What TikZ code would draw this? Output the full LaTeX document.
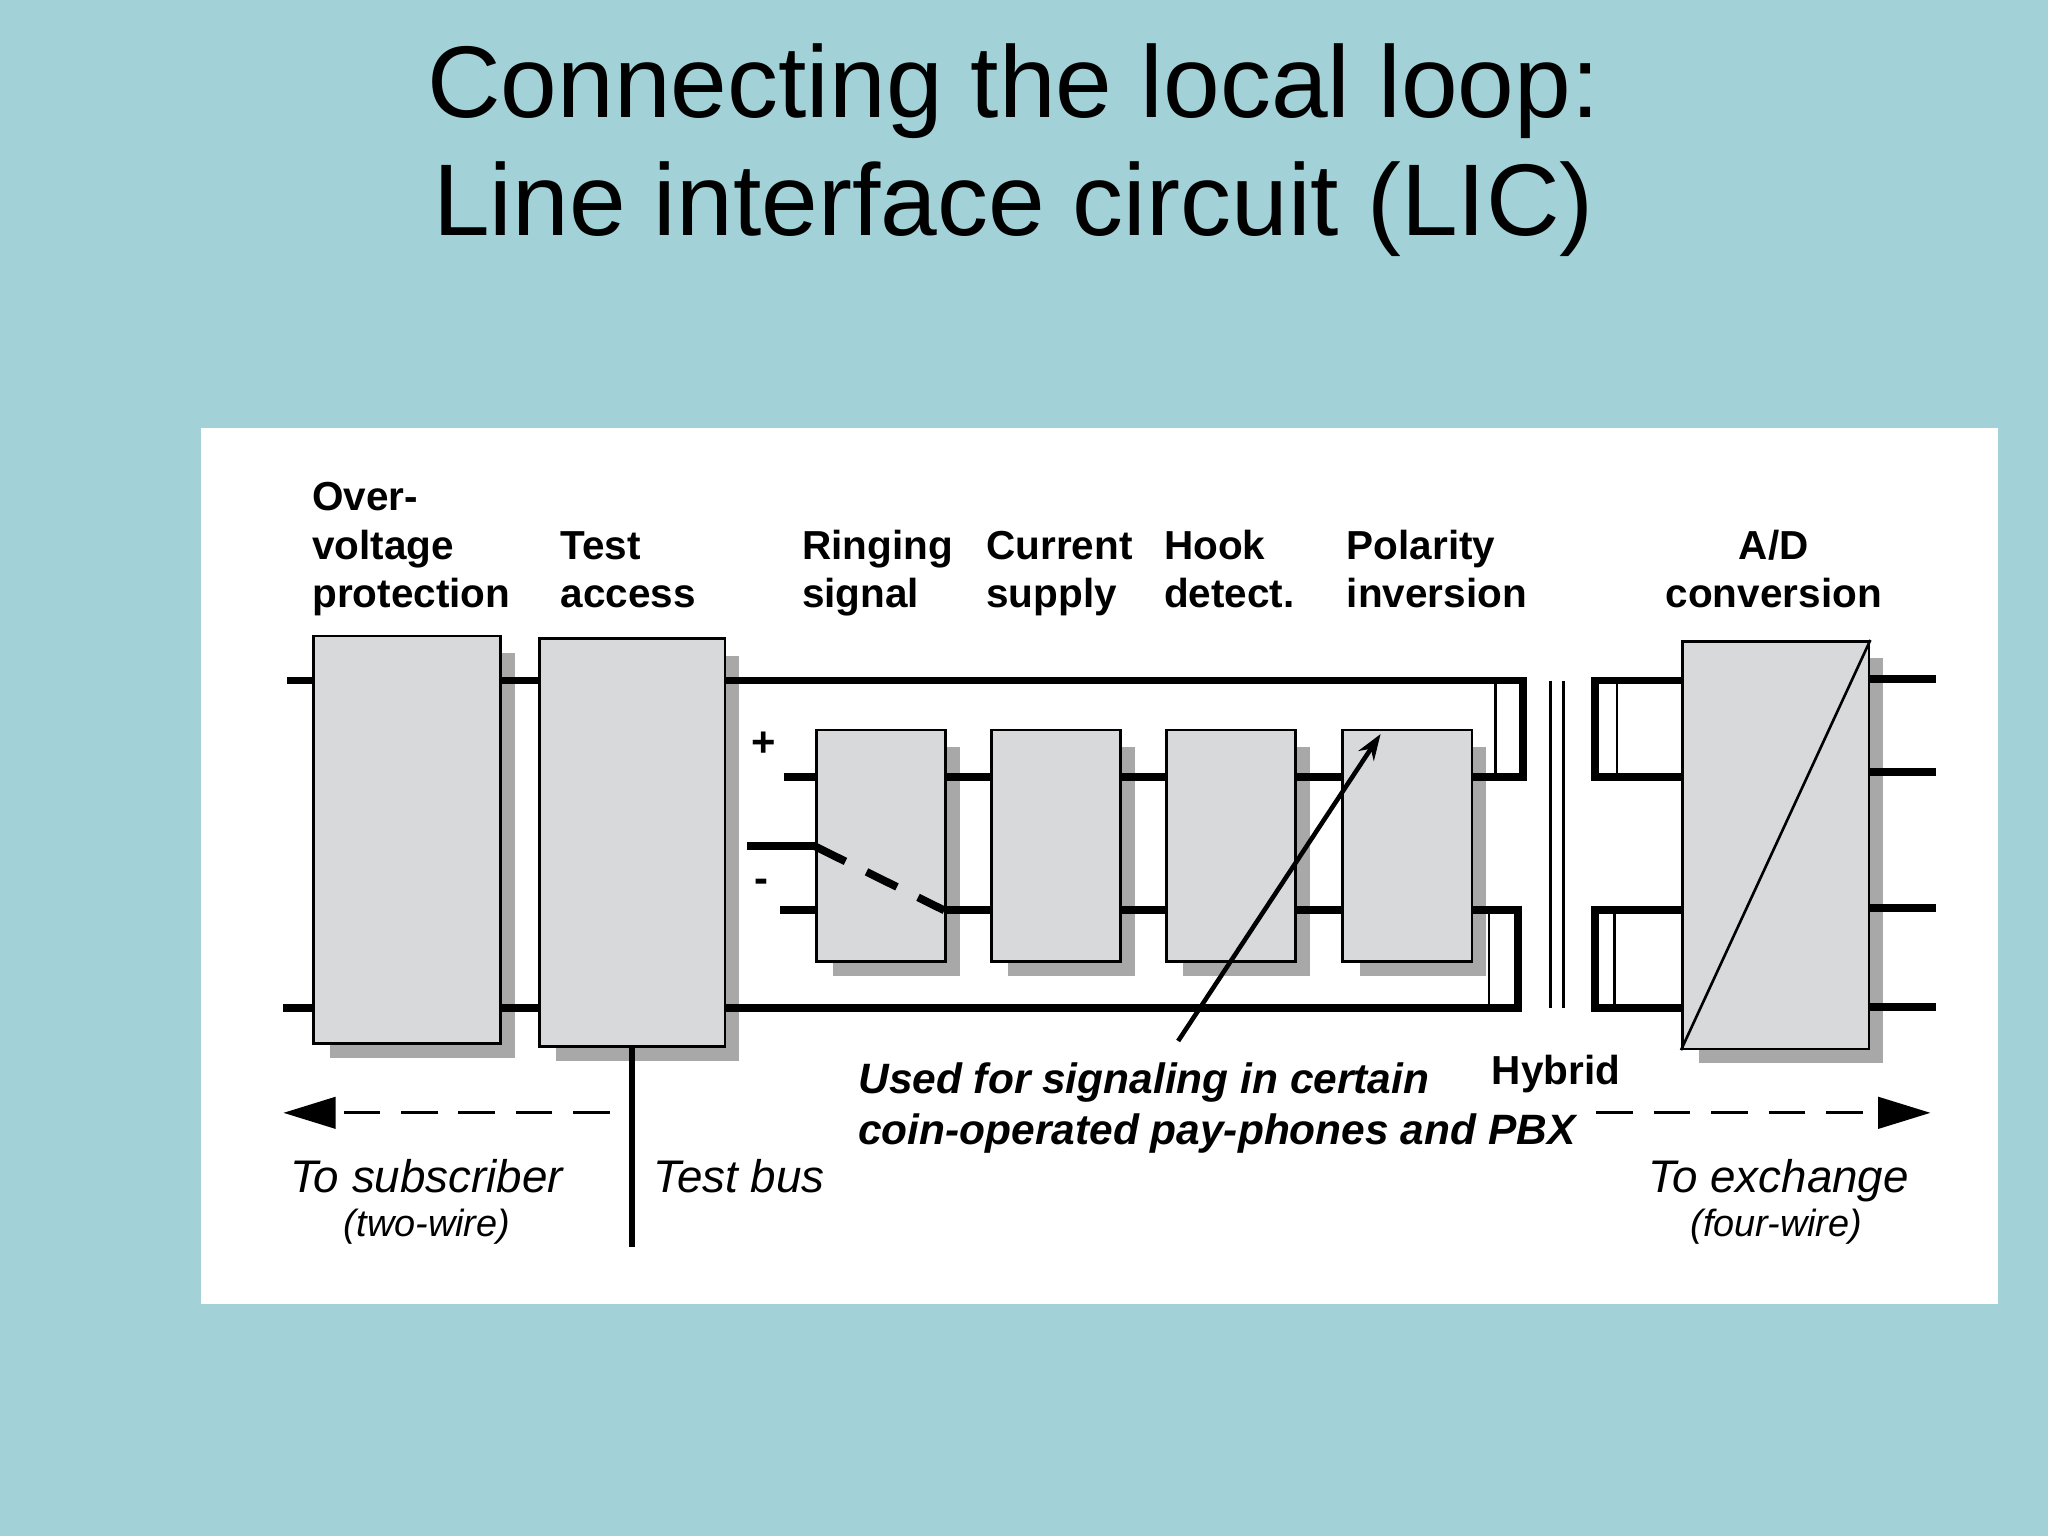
\documentclass[tikz,border=0pt]{standalone}
\usepackage{fontspec}
\setmainfont{Liberation Sans}
\usetikzlibrary{arrows.meta}
\definecolor{bgc}{HTML}{A2D1D8}
\definecolor{boxc}{HTML}{D8D9DB}
\definecolor{shc}{HTML}{A8A8A8}
\begin{document}
\begin{tikzpicture}[x=1pt,y=-1pt,
  blk/.style={draw=black,line width=2pt,fill=boxc},
  shd/.style={fill=shc},
  wire/.style={line width=6pt},
  thin/.style={line width=2pt},
  lab/.style={font=\fontsize{31}{37}\selectfont\bfseries,anchor=base west,align=left,inner sep=0pt},
  ital/.style={font=\fontsize{35}{37}\selectfont\itshape,inner sep=0pt,anchor=base west},
  sub/.style={font=\fontsize{29}{30}\selectfont\itshape,inner sep=0pt,anchor=base},
  note/.style={font=\fontsize{32.5}{39}\selectfont\bfseries\itshape,anchor=base west,align=left,inner sep=0pt}]
\useasboundingbox (0,0) rectangle (1568,1176);
\fill[bgc] (0,0) rectangle (1568,1176);
\fill[white] (154,328) rectangle (1530,998);
% title
\node[font=\fontsize{78}{90}\selectfont,anchor=base,align=center,inner sep=0pt] (title) at (776,180) {Connecting the local loop:\\ Line interface circuit (LIC)};
% shadows
\foreach \a/\b/\c/\d in {239/486/382/798, 412/488/554/800, 624/558/723/735, 758/558/857/735, 892/558/991/735, 1027/558/1126/735, 1287/490/1430/802}
  \fill[shd] (\a+14,\b+14) rectangle (\c+12,\d+12);
% wires outer
\draw[wire] (220,521) -- (239,521) (382,521) -- (412,521);
\draw[wire] (217,772) -- (239,772) (382,772) -- (412,772);
\draw[wire] (554,521) -- (1166,521) -- (1166,595) -- (1126,595);
\draw[thin] (1145,521) -- (1145,595);
\draw[wire] (554,772) -- (1162,772) -- (1162,697) -- (1126,697);
\draw[thin] (1140,697) -- (1140,772);
% inner wires
\draw[wire] (600,595) -- (624,595) (723,595) -- (758,595) (857,595) -- (892,595) (991,595) -- (1027,595);
\draw[wire] (597,697) -- (624,697) (723,697) -- (758,697) (857,697) -- (892,697) (991,697) -- (1027,697);
\draw[wire] (572,648) -- (624,648);
% blocks
\node[blk,minimum width=143pt,minimum height=312pt,anchor=north west,inner sep=0pt] (ovp) at (239,486) {};
\node[blk,minimum width=142pt,minimum height=312pt,anchor=north west,inner sep=0pt] (ta) at (412,488) {};
\node[blk,minimum width=99pt,minimum height=177pt,anchor=north west,inner sep=0pt] (ring) at (624,558) {};
\node[blk,minimum width=99pt,minimum height=177pt,anchor=north west,inner sep=0pt] (cur) at (758,558) {};
\node[blk,minimum width=99pt,minimum height=177pt,anchor=north west,inner sep=0pt] (hook) at (892,558) {};
\node[blk,minimum width=99pt,minimum height=177pt,anchor=north west,inner sep=0pt] (pol) at (1027,558) {};
\node[blk,minimum width=143pt,minimum height=312pt,anchor=north west,inner sep=0pt] (ad) at (1287,490) {};
\draw[thin] (ad.south west) -- (ad.north east);
% switch
\draw[line width=6pt,dash pattern=on 26pt off 18pt] (624,648) -- (723,697);
\node[font=\fontsize{32}{32}\selectfont\bfseries] (plus) at (585,570) {+};
\node[font=\fontsize{32}{32}\selectfont\bfseries] (minus) at (583,678) {-};
% hybrid
\draw[thin] (1187,521) -- (1187,772) (1197,521) -- (1197,772);
\draw[wire] (1287,521) -- (1221,521) -- (1221,595) -- (1287,595);
\draw[thin] (1238,521) -- (1238,595);
\draw[wire] (1287,697) -- (1221,697) -- (1221,772) -- (1287,772);
\draw[thin] (1236,697) -- (1236,772);
% outputs
\foreach \y in {520,591,695,771} \draw[wire] (1430,\y) -- (1482,\y);
% test bus
\draw[line width=5pt] (484,800) -- (484,955);
% annotation arrow
\coordinate (nt) at (902,797);
\draw[line width=3.5pt,-{Stealth[length=20pt,width=14pt]}] (nt) -- (1057,562);
% dashed arrows
\draw[line width=2.5pt,dash pattern=on 28pt off 16pt,-{Triangle[length=40pt,width=24pt]}] (467,852) -- (217,852);
\draw[line width=2.5pt,dash pattern=on 28pt off 16pt,-{Triangle[length=40pt,width=24pt]}] (1222,852) -- (1478,852);
% labels
\node[lab] (l1) at (239,465) {Over-\\voltage\\protection};
\node[lab] (l2) at (429,465) {Test\\access};
\node[lab] (l3) at (614,465) {Ringing\\signal};
\node[lab] (l4) at (755,465) {Current\\supply};
\node[lab] (l5) at (891,465) {Hook\\detect.};
\node[lab] (l6) at (1031,465) {Polarity\\inversion};
\node[lab,anchor=base,align=center] (l7) at (1358,465) {A/D\\conversion};
\node[lab] (hy) at (1142,830) {Hybrid};
\node[note] (n1) at (657,876) {Used for signaling in certain\\coin-operated pay-phones and PBX};
\node[ital] (s1) at (222,913) {To subscriber};
\node[sub] (s2) at (327,947) {(two-wire)};
\node[ital] (tb) at (500,913) {Test bus};
\node[ital] (e1) at (1262,913) {To exchange};
\node[sub] (e2) at (1360,947) {(four-wire)};
\end{tikzpicture}
\end{document}
